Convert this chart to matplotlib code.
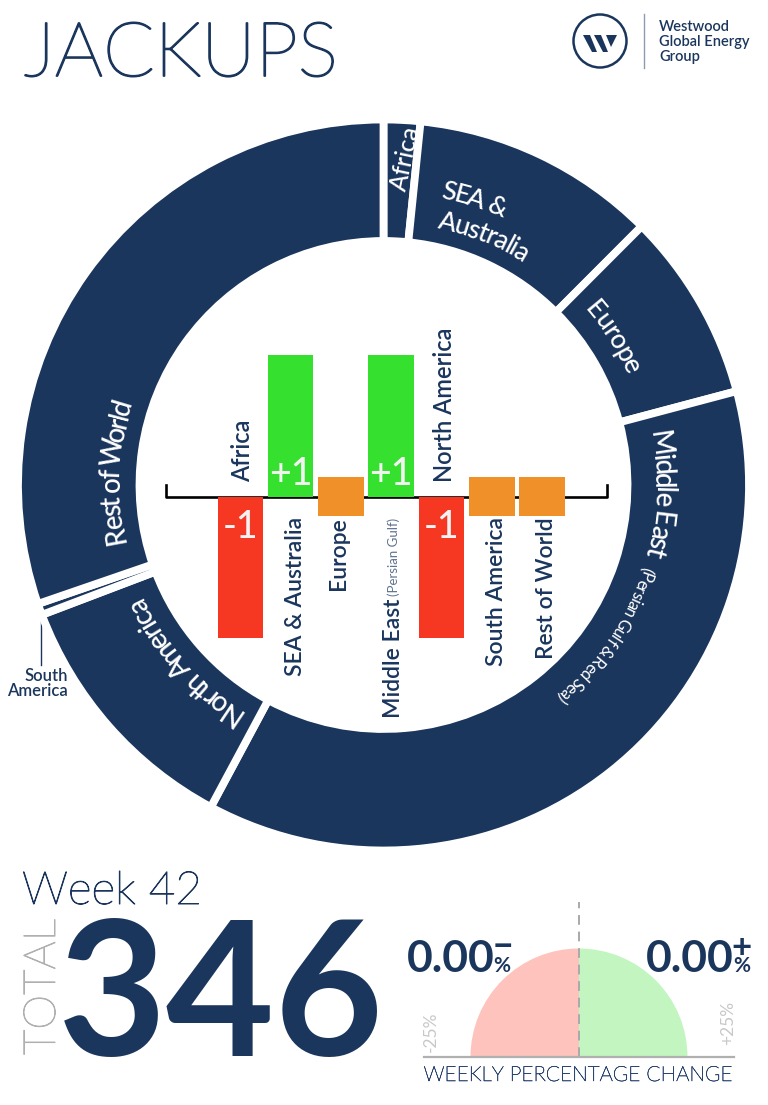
import math
import matplotlib
matplotlib.use('Agg')
import matplotlib.pyplot as plt
import matplotlib.patheffects as pe
from matplotlib import font_manager
from matplotlib.font_manager import FontProperties
from matplotlib.patches import Circle, Polygon, Wedge

W, H = 768, 1105
NAVY = '#1b365d'

# donut, clockwise from the top (sum 346)
regions = ['Africa', 'SEA & Australia', 'Europe', 'Middle East', 'North America', 'South America', 'Rest of World']
rig_counts = [5.6, 37.6, 29.0, 127.9, 39.4, 1.75, 104.75]

# weekly change per region
bar_regions = ['Africa', 'SEA & Australia', 'Europe', 'Middle East', 'North America', 'South America', 'Rest of World']
bar_changes = [-1, 1, 0, 1, -1, 0, 0]
bar_text = ['-1', '+1', '', '+1', '-1', '', '']

week = 'Week 42'
total = '346'
pct_down = 0.00
pct_up = 0.00

plt.rcParams['font.family'] = ['Lato', 'DejaVu Sans']
fig = plt.figure(figsize=(W / 100, H / 100), dpi=100, facecolor='white')


def px_axes(left, top, right, bottom):
    # axes placed in picture pixels
    ax = fig.add_axes([left / W, 1 - bottom / H, (right - left) / W, (bottom - top) / H])
    ax.axis('off')
    return ax


def heavier(color, amount):
    # the installed Lato Light is thinner than the one in the picture
    return [pe.withStroke(linewidth=amount, foreground=color)]


def text_width(font, s):
    font.set_text(s, 0.0)
    return font.get_width_height()[0] / 64


def arc_text(ax, s, bearing, span, r, size, weight='medium', color='white'):
    # letters follow the ring clockwise, tops pointing outwards
    prop = FontProperties(family='Lato', weight=weight, size=size)
    font = font_manager.get_font(font_manager.findfont(prop))
    font.set_size(size, 100)
    base = text_width(font, '|')
    adv = lambda t: text_width(font, t + '|') - base if t else 0
    full = adv(s)
    r_base = r - 0.36 * size * 100 / 72
    for i, ch in enumerate(s):
        if ch == ' ':
            continue
        mid = (adv(s[:i]) + adv(s[:i + 1])) / 2
        ang = bearing + (mid / full - 0.5) * span
        a = math.radians(ang)
        ax.text(r_base * math.sin(a), r_base * math.cos(a), ch, rotation=-ang, rotation_mode='anchor',
                ha='center', va='baseline', fontproperties=prop, color=color)


# page level things: title, logo, big numbers
page = px_axes(0, 0, W, H)
page.set_xlim(0, W)
page.set_ylim(H, 0)

page.text(24, 76, 'JACKUPS', fontsize=54.5, weight='light', color=NAVY, va='baseline', path_effects=heavier(NAVY, 1.3))
page.add_patch(Circle((600, 41), 26.5, fill=False, edgecolor=NAVY, lw=1.8))
for pts in ([(583, 35), (590, 35), (597, 52), (592, 52)],
            [(594, 35), (601, 35), (608, 52), (603, 52)],
            [(606, 35), (617, 35), (611, 47)]):
    page.add_patch(Polygon(pts, closed=True, facecolor=NAVY, edgecolor='none'))
page.plot([644, 644], [14, 68], color='#8c9bb0', lw=1)
for y, line in zip([31, 46, 61], ['Westwood', 'Global Energy', 'Group']):
    page.text(659, y, line, fontsize=10.5, weight='semibold', color=NAVY, va='baseline')

page.text(22, 904, week, fontsize=33, weight='light', color=NAVY, va='baseline', path_effects=heavier(NAVY, 0.7))
page.text(43.5, 1055, 'TOTAL', fontsize=32, weight='light', color='#b0b0b0', rotation=90, ha='center', va='bottom',
          path_effects=heavier('#b0b0b0', 0.7))
page.text(58, 1056, total, fontsize=135, weight='bold', color=NAVY, va='baseline')

page.plot([41, 41], [619, 665], color=NAVY, lw=1)
page.text(68, 681, 'South', fontsize=12, weight='semibold', color=NAVY, ha='right', va='baseline')
page.text(68, 696, 'America', fontsize=12, weight='semibold', color=NAVY, ha='right', va='baseline')

# donut
ring = px_axes(383.5 - 372, 485 - 372, 383.5 + 372, 485 + 372)
ring.pie(rig_counts, startangle=90, counterclock=False, radius=365.5, colors=[NAVY] * len(rig_counts),
         wedgeprops=dict(width=121.5, edgecolor='white', linewidth=5.6))
ring.set_xlim(-372, 372)
ring.set_ylim(-372, 372)

ring.text(405 - 383.5, 485 - 158, 'Africa', rotation=78, rotation_mode='anchor', ha='center', va='center',
          fontsize=18, weight='medium', color='white')
arc_text(ring, 'SEA &', 17.6, 12.7, 302, 19)
arc_text(ring, 'Australia', 21.9, 20, 272, 19)
arc_text(ring, 'Europe', 57.3, 17, 276, 19)
arc_text(ring, 'Middle East', 92, 25.6, 281, 20)
arc_text(ring, '(Persian Gulf & Red Sea)', 124, 33, 277, 12, weight='regular')
arc_text(ring, 'North America', 228.6, 33, 275, 20)
arc_text(ring, 'Rest of World', 273, 30, 274, 20)

# weekly change bars
bars = px_axes(166, 355, 607, 638)
bars.set_xlim(-1.477, 7.29)
bars.set_ylim(-1, 1)
bars.plot([-1.477, -1.477, 7.29, 7.29], [0.08, 0, 0, 0.08], color='black', lw=1.9, clip_on=False, zorder=1)
label_kw = dict(rotation=90, rotation_mode='anchor', va='baseline', color=NAVY)
for i, (name, v, lab) in enumerate(zip(bar_regions, bar_changes, bar_text)):
    if v > 0:
        bars.bar(i, v, width=0.905, color='#36e02f', zorder=2)
        bars.text(i, 0.08, lab, color='#f2f2f2', fontsize=27, weight='medium', ha='center', va='baseline', zorder=3)
    elif v < 0:
        bars.bar(i, v, width=0.905, color='#f63822', zorder=2)
        bars.text(i, -0.293, lab, color='#f2f2f2', fontsize=27, weight='medium', ha='center', va='baseline', zorder=3)
    else:
        # no change is shown as a small block across the line
        bars.bar(i, 0.28, bottom=-0.14, width=0.905, color='#f09028', zorder=2)
    if v < 0:
        bars.text(i + 0.2, 0.104, name, ha='left', fontsize=17, weight='semibold', **label_kw)
    elif name == 'Middle East':
        bars.text(i + 0.18, -1.565, name, ha='left', fontsize=16.5, weight='semibold', **label_kw)
        bars.text(i + 0.13, -0.15, '(Persian Gulf)', rotation=90, rotation_mode='anchor', ha='right', va='baseline',
                  fontsize=9.5, weight='regular', color='#5f7390')
    elif name == 'Europe':
        bars.text(i + 0.08, -0.145, name, ha='right', fontsize=16.5, weight='semibold', **label_kw)
    else:
        bars.text(i + 0.22, -0.145, name, ha='right', fontsize=16.5, weight='semibold', **label_kw)

# weekly percentage gauge, drawn with the -25..+25 range across
gauge = px_axes(424, 900, 734, 1057)
gauge.set_xlim(-155, 155)
gauge.set_ylim(0, 157)
gauge.add_patch(Wedge((0, 0), 108.5, 90, 180, facecolor='#fdc3bc', edgecolor='none'))
gauge.add_patch(Wedge((0, 0), 108.5, 0, 90, facecolor='#c3f5c0', edgecolor='none'))
gauge.plot([0, 0], [0, 155], color='#a9a9a9', lw=1.4, dashes=(5, 3.5))
gauge.plot([-155, 155], [0, 0], color='#b0b0b0', lw=1.6, clip_on=False)
page.text(431, 1052, '-25%', rotation=90, fontsize=12.5, weight='regular', color='#c8c8c8', ha='center', va='bottom')
page.text(728, 1045, '+25%', rotation=90, fontsize=12.5, weight='regular', color='#c8c8c8', ha='center', va='bottom')
page.text(407, 972, f'{pct_down:.2f}', fontsize=32, weight='bold', color=NAVY, va='baseline')
page.text(646, 972, f'{pct_up:.2f}', fontsize=32, weight='bold', color=NAVY, va='baseline')
page.text(502.5, 957, '–', fontsize=28, weight='bold', color=NAVY, ha='center', va='baseline')
page.text(741.5, 958, '+', fontsize=25, weight='bold', color=NAVY, ha='center', va='baseline')
page.text(502, 972, '%', fontsize=15, weight='bold', color=NAVY, ha='center', va='baseline')
page.text(741.5, 972, '%', fontsize=15, weight='bold', color=NAVY, ha='center', va='baseline')
page.text(578, 1081, 'WEEKLY PERCENTAGE CHANGE', fontsize=15, weight='light', color='#2a4570', ha='center', va='baseline',
          path_effects=heavier('#2a4570', 0.4))

fig.savefig('out.png', dpi=100)
